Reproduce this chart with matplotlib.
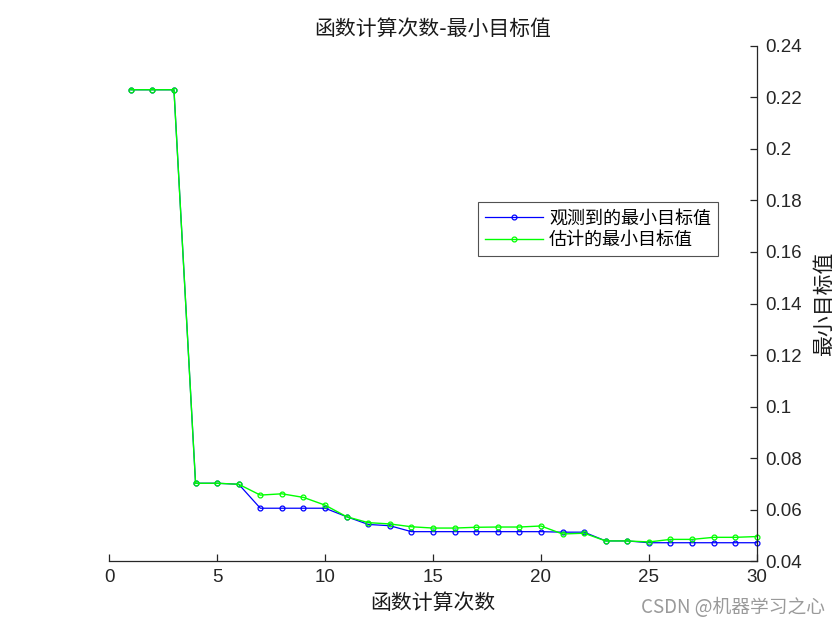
import matplotlib
matplotlib.use("Agg")
import matplotlib.pyplot as plt
from matplotlib.ticker import FuncFormatter

plt.rcParams['font.family'] = ['Noto Sans CJK SC', 'DejaVu Sans']

evals = list(range(1, 31))
observed = [0.2230, 0.2230, 0.2230, 0.0702, 0.0702, 0.0698, 0.0605, 0.0605, 0.0605, 0.0605,
            0.0572, 0.0542, 0.0537, 0.0514, 0.0514, 0.0514, 0.0514, 0.0514, 0.0514, 0.0514,
            0.0512, 0.0512, 0.0478, 0.0478, 0.0471, 0.0471, 0.0471, 0.0471, 0.0471, 0.0471]
estimated = [0.2230, 0.2230, 0.2230, 0.0702, 0.0702, 0.0698, 0.0656, 0.0661, 0.0647, 0.0617,
             0.0572, 0.0549, 0.0544, 0.0533, 0.0528, 0.0528, 0.0531, 0.0532, 0.0532, 0.0536,
             0.0505, 0.0508, 0.0478, 0.0478, 0.0474, 0.0484, 0.0484, 0.0492, 0.0492, 0.0495]
xticks = [0, 5, 10, 15, 20, 25, 30]
yticks = [0.04, 0.06, 0.08, 0.10, 0.12, 0.14, 0.16, 0.18, 0.20, 0.22, 0.24]

fig = plt.figure(figsize=(8.4, 6.3), dpi=100)
ax = fig.add_axes([0.130, 0.1095, 0.771, 0.8175])

ax.plot(evals, observed, color='#0000ff', lw=0.9, marker='o', ms=3.5,
        mfc='none', mew=0.9, label='观测到的最小目标值', clip_on=False)
ax.plot(evals, estimated, color='#00ff00', lw=1.0, marker='o', ms=3.5,
        mfc='none', mew=0.9, label='估计的最小目标值', clip_on=False)

ax.set_xlim(0, 30)
ax.set_ylim(0.04, 0.24)
ax.set_xticks(xticks)
ax.set_yticks(yticks)
ax.yaxis.set_major_formatter(FuncFormatter(lambda v, p: ('%g' % round(v, 4))))
ax.yaxis.tick_right()
ax.yaxis.set_label_position('right')
for s in ['top', 'left']:
    ax.spines[s].set_visible(False)
for s in ['bottom', 'right']:
    ax.spines[s].set_color('#262626')
    ax.spines[s].set_linewidth(0.9)
ax.tick_params(direction='in', length=5, width=0.9, colors='#262626',
               labelsize=13.5, pad=6)
for lab in ax.get_xticklabels() + ax.get_yticklabels():
    lab.set_fontfamily(['Liberation Sans', 'DejaVu Sans'])

ax.set_title('函数计算次数-最小目标值', fontsize=15, color='#1a1a1a', pad=8)
ax.set_xlabel('函数计算次数', fontsize=15, color='#1a1a1a', labelpad=4)
ax.set_ylabel('最小目标值', fontsize=15, color='#1a1a1a', labelpad=8)

leg = ax.legend(loc='upper left', bbox_to_anchor=(0.569, 0.697), fontsize=13,
                frameon=True, fancybox=False, edgecolor='#262626',
                borderpad=0.4, handlelength=3.2, handletextpad=0.35,
                labelspacing=0.2, borderaxespad=0)
leg.get_frame().set_linewidth(0.8)

fig.text(0.982, 0.036, 'CSDN @机器学习之心', ha='right', va='center',
         fontsize=13.5, color='#9a9a9a')

fig.savefig('out.png', dpi=100)
